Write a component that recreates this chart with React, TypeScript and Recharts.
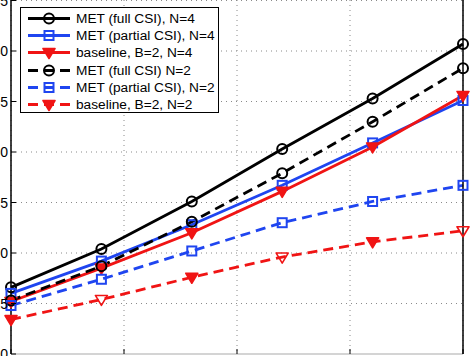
import { LineChart, Line, XAxis, YAxis, CartesianGrid } from 'recharts'

// x positions of the samples and axis ticks
const xValues = [0, 4, 8, 12, 16, 20]
const xTicks = [0, 5, 10, 15, 20]
const yTicks = [10, 15, 20, 25, 30, 35, 40, 45, 50]

// series values
const metFullN4 = [16.6, 20.4, 25.1, 30.3, 35.3, 40.7]
const metPartialN4 = [16.0, 19.2, 22.8, 26.7, 30.9, 35.1]
const baselineN4 = [15.2, 18.5, 22.0, 26.1, 30.5, 35.6]
const metFullN2 = [15.3, 18.7, 23.1, 27.9, 33.0, 38.3]
const metPartialN2 = [14.8, 17.4, 20.2, 23.0, 25.1, 26.7]
const baselineN2 = [13.4, 15.4, 17.6, 19.6, 21.1, 22.2]

const BLACK = '#000000'
const BLUE = '#1f45f0'
const RED = '#f01414'
const FONT = '"Liberation Sans", Arial, Helvetica, sans-serif'

// chart layout (chart coordinates)
const CHART_W = 512
const CHART_H = 444
const LEFT_AXIS_W = 40
const RIGHT_AXIS_W = 20
const X_AXIS_H = 30
const PLOT_LEFT = LEFT_AXIS_W
const PLOT_RIGHT = CHART_W - RIGHT_AXIS_W
const PLOT_BOTTOM = CHART_H - X_AXIS_H

type MarkerKind = 'circle' | 'square' | 'triangle'

interface Series {
  key: string
  name: string
  values: number[]
  color: string
  dashed: boolean
  marker: MarkerKind
  openPoints?: number[]
}

const series: Series[] = [
  { key: 'metFullN4', name: 'MET (full CSI), N=4', values: metFullN4, color: BLACK, dashed: false, marker: 'circle' },
  { key: 'metPartialN4', name: 'MET (partial CSI), N=4', values: metPartialN4, color: BLUE, dashed: false, marker: 'square' },
  { key: 'baselineN4', name: 'baseline, B=2, N=4', values: baselineN4, color: RED, dashed: false, marker: 'triangle' },
  { key: 'metFullN2', name: 'MET (full CSI) N=2', values: metFullN2, color: BLACK, dashed: true, marker: 'circle' },
  { key: 'metPartialN2', name: 'MET (partial CSI), N=2', values: metPartialN2, color: BLUE, dashed: true, marker: 'square' },
  { key: 'baselineN2', name: 'baseline, B=2, N=2', values: baselineN2, color: RED, dashed: true, marker: 'triangle', openPoints: [1, 3, 5] },
]

const chartData = xValues.map((x, i) => {
  const row: Record<string, number> = { x }
  series.forEach(s => { row[s.key] = s.values[i] })
  return row
})

function Marker({ kind, cx, cy, color, open }: { kind: MarkerKind; cx: number; cy: number; color: string; open?: boolean }) {
  if (kind === 'circle') {
    return <circle cx={cx} cy={cy} r={5} fill="none" stroke={color} strokeWidth={2} />
  }
  if (kind === 'square') {
    return <rect x={cx - 4.5} y={cy - 4.5} width={9} height={9} fill="none" stroke={color} strokeWidth={2} />
  }
  return (
    <path
      d={`M${cx - 6},${cy - 4} L${cx + 6},${cy - 4} L${cx},${cy + 6} Z`}
      fill={open ? 'none' : color}
      stroke={color}
      strokeWidth={1.6}
      strokeLinejoin="round"
    />
  )
}

// MATLAB style: ticks point into the plot, labels sit just left of the axis
const LeftTick = (props: any) => {
  const { y, payload } = props
  return (
    <g>
      <line x1={PLOT_LEFT} x2={PLOT_LEFT + 5} y1={y} y2={y} stroke={BLACK} strokeWidth={1} />
      <text x={PLOT_LEFT - 3} y={y + 5} textAnchor="end" fontSize={14} fontFamily={FONT} fill={BLACK} stroke="none">
        {String(payload.value)}
      </text>
    </g>
  )
}

const RightTick = (props: any) => {
  const { y } = props
  return <line x1={PLOT_RIGHT - 5} x2={PLOT_RIGHT} y1={y} y2={y} stroke={BLACK} strokeWidth={1} />
}

const BottomTick = (props: any) => {
  const { x } = props
  return <line x1={x} x2={x} y1={PLOT_BOTTOM - 5} y2={PLOT_BOTTOM} stroke={BLACK} strokeWidth={1} />
}

function LegendBox() {
  return (
    <div
      style={{
        position: 'absolute',
        left: 20,
        top: 7,
        width: 199,
        height: 106,
        boxSizing: 'border-box',
        border: '1px solid #000',
        background: '#fff',
        paddingTop: 1.5,
        fontFamily: FONT,
        fontSize: 13.7,
        color: '#000',
      }}
    >
      {series.map(s => (
        <div key={s.key} style={{ display: 'flex', alignItems: 'center', height: 17.3 }}>
          <svg width={55} height={17} style={{ display: 'block', flex: 'none' }}>
            <line
              x1={7}
              x2={49}
              y1={8.5}
              y2={8.5}
              stroke={s.color}
              strokeWidth={2.8}
              strokeDasharray={s.dashed ? '10 6' : undefined}
            />
            <Marker kind={s.marker} cx={28} cy={8.5} color={s.color} />
          </svg>
          <span style={{ whiteSpace: 'nowrap', lineHeight: '17px' }}>{s.name}</span>
        </div>
      ))}
    </div>
  )
}

export default function App() {
  return (
    <div style={{ position: 'fixed', left: 0, top: 0, width: 474, height: 356, overflow: 'hidden', background: '#fff' }}>
      <div style={{ position: 'absolute', left: -29, top: -60 }}>
        <LineChart width={CHART_W} height={CHART_H} data={chartData} margin={{ top: 10, right: 0, bottom: 0, left: 0 }}>
          <CartesianGrid yAxisId="left" stroke="#8a8a8a" strokeDasharray="1 4" />
          <XAxis
            dataKey="x"
            type="number"
            domain={[0, 20]}
            ticks={xTicks}
            height={X_AXIS_H}
            axisLine={{ stroke: '#d4d4d4', strokeWidth: 2 }}
            tickLine={false}
            tick={<BottomTick />}
          />
          <YAxis
            yAxisId="left"
            domain={[10, 50]}
            ticks={yTicks}
            width={LEFT_AXIS_W}
            axisLine={{ stroke: BLACK, strokeWidth: 1.5 }}
            tickLine={false}
            tick={<LeftTick />}
          />
          <YAxis
            yAxisId="right"
            orientation="right"
            domain={[10, 50]}
            ticks={yTicks}
            width={RIGHT_AXIS_W}
            axisLine={{ stroke: BLACK, strokeWidth: 1.5 }}
            tickLine={false}
            tick={<RightTick />}
          />
          {series.map(s => (
            <Line
              key={s.key}
              yAxisId="left"
              type="linear"
              dataKey={s.key}
              name={s.name}
              stroke={s.color}
              strokeWidth={2.8}
              strokeDasharray={s.dashed ? '10 6' : undefined}
              isAnimationActive={false}
              dot={(p: any) => (
                <Marker
                  key={`${s.key}-${p.index}`}
                  kind={s.marker}
                  cx={p.cx}
                  cy={p.cy}
                  color={s.color}
                  open={s.openPoints?.includes(p.index)}
                />
              )}
            />
          ))}
        </LineChart>
      </div>
      <LegendBox />
    </div>
  )
}
